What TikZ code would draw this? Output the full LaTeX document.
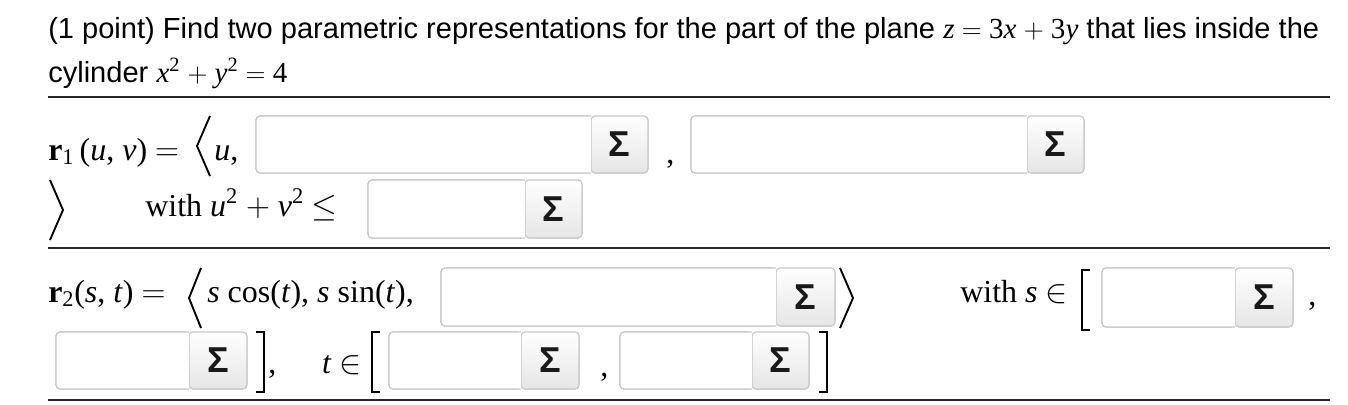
\documentclass[tikz,border=0pt]{standalone}
\usepackage{fontspec}
\setmainfont{Liberation Serif}
\newfontfamily\qsans{Liberation Sans}
\newcommand\vi[1]{\textit{#1}}
\begin{document}
\begin{tikzpicture}[x=0.75pt,y=-0.75pt,
  qtext/.style={anchor=base west,inner sep=0pt,font=\qsans\fontsize{21.8}{24}\selectfont},
  mtext/.style={anchor=base west,inner sep=0pt,font=\fontsize{24}{26}\selectfont},
  delim/.style={line width=1.4pt,line join=miter},
  rulel/.style={line width=1.6pt,black!85},
  fieldbox/.style={draw=black!22,line width=0.9pt,rounded corners=3pt,fill=white},
  sigbtn/.style={draw=black!22,line width=0.9pt,rounded corners=3pt,top color=white,bottom color=black!10}]
\useasboundingbox (0,0) rectangle (1348,404);
\newcommand\ansfield[6]{%
  \fill[sigbtn] (#3,#4) rectangle (#2,#5);
  \draw[fieldbox] (#1,#4) -- (#3,#4) -- (#3,#5) -- (#1,#5) -- cycle;
  \draw[fieldbox,fill=white,rounded corners=3pt] (#3,#4) -- (#1,#4) -- (#1,#5) -- (#3,#5);
  \node[font=\qsans\bfseries\fontsize{27}{27}\selectfont,text=black!90] (#6) at ({(#3+#2)/2},{(#4+#5)/2}) {Σ};
}
\node[qtext] (q1) at (48,38) {(1 point) Find two parametric representations for the part of the plane {\rmfamily\vi{z} $=$ 3\vi{x} $+$ 3\vi{y}} that lies inside the};
\node[qtext] (q2) at (48,82) {cylinder {\rmfamily\vi{x}\textsuperscript{2} $+$ \vi{y}\textsuperscript{2} $=$ 4}};
\draw[rulel] (48,97) -- (1330,97);
\draw[rulel] (48,248) -- (1330,248);
\draw[rulel] (48,400) -- (1330,400);
% row 1
\node[mtext] (r1) at (48,160) {\textbf{r}\textsubscript{1}\,(\vi{u}, \vi{v}) $=$};
\draw[delim] (210,116) -- (197,146) -- (210,176);
\node[mtext] (u) at (214,160) {\vi{u},};
\ansfield{256}{648}{591}{116}{173}{b1}
\node[mtext] (c1) at (666,163) {,};
\ansfield{691}{1084}{1027}{116}{173}{b2}
% row 2
\draw[delim] (50,180) -- (63,210) -- (50,240);
\node[mtext] (w1) at (145,216) {with \vi{u}\textsuperscript{2} $+$ \vi{v}\textsuperscript{2} $\le$};
\ansfield{368}{582}{525}{180}{238}{b3}
% row 3
\node[mtext] (r2) at (48,302) {\textbf{r}\textsubscript{2}(\vi{s}, \vi{t}) $=$};
\draw[delim] (201,268) -- (189,298) -- (201,328);
\node[mtext] (sc) at (207,302) {\vi{s} cos(\vi{t}), \vi{s} sin(\vi{t}),};
\ansfield{441}{835}{776}{268}{326}{b4}
\draw[delim] (840,268) -- (853,298) -- (840,328);
\node[mtext,anchor=base east] (w2) at (1068,302) {with \vi{s} $\in$};
\draw[delim] (1090,270) -- (1082,270) -- (1082,330) -- (1090,330);
\ansfield{1102}{1293}{1235}{268}{327}{b5}
\node[mtext] (c2) at (1308,305) {,};
% row 4
\ansfield{56}{247}{189}{332}{389}{b6}
\draw[delim] (256,332) -- (264,332) -- (264,392) -- (256,392);
\node[mtext] (c4) at (268,373) {,};
\node[mtext,anchor=base east] (t1) at (362,373) {\vi{t} $\in$};
\draw[delim] (380,332) -- (372,332) -- (372,392) -- (380,392);
\ansfield{389}{579}{521}{332}{389}{b7}
\node[mtext] (c3) at (600,376) {,};
\ansfield{620}{809}{752}{332}{389}{b8}
\draw[delim] (819,332) -- (827,332) -- (827,392) -- (819,392);
\end{tikzpicture}
\end{document}
